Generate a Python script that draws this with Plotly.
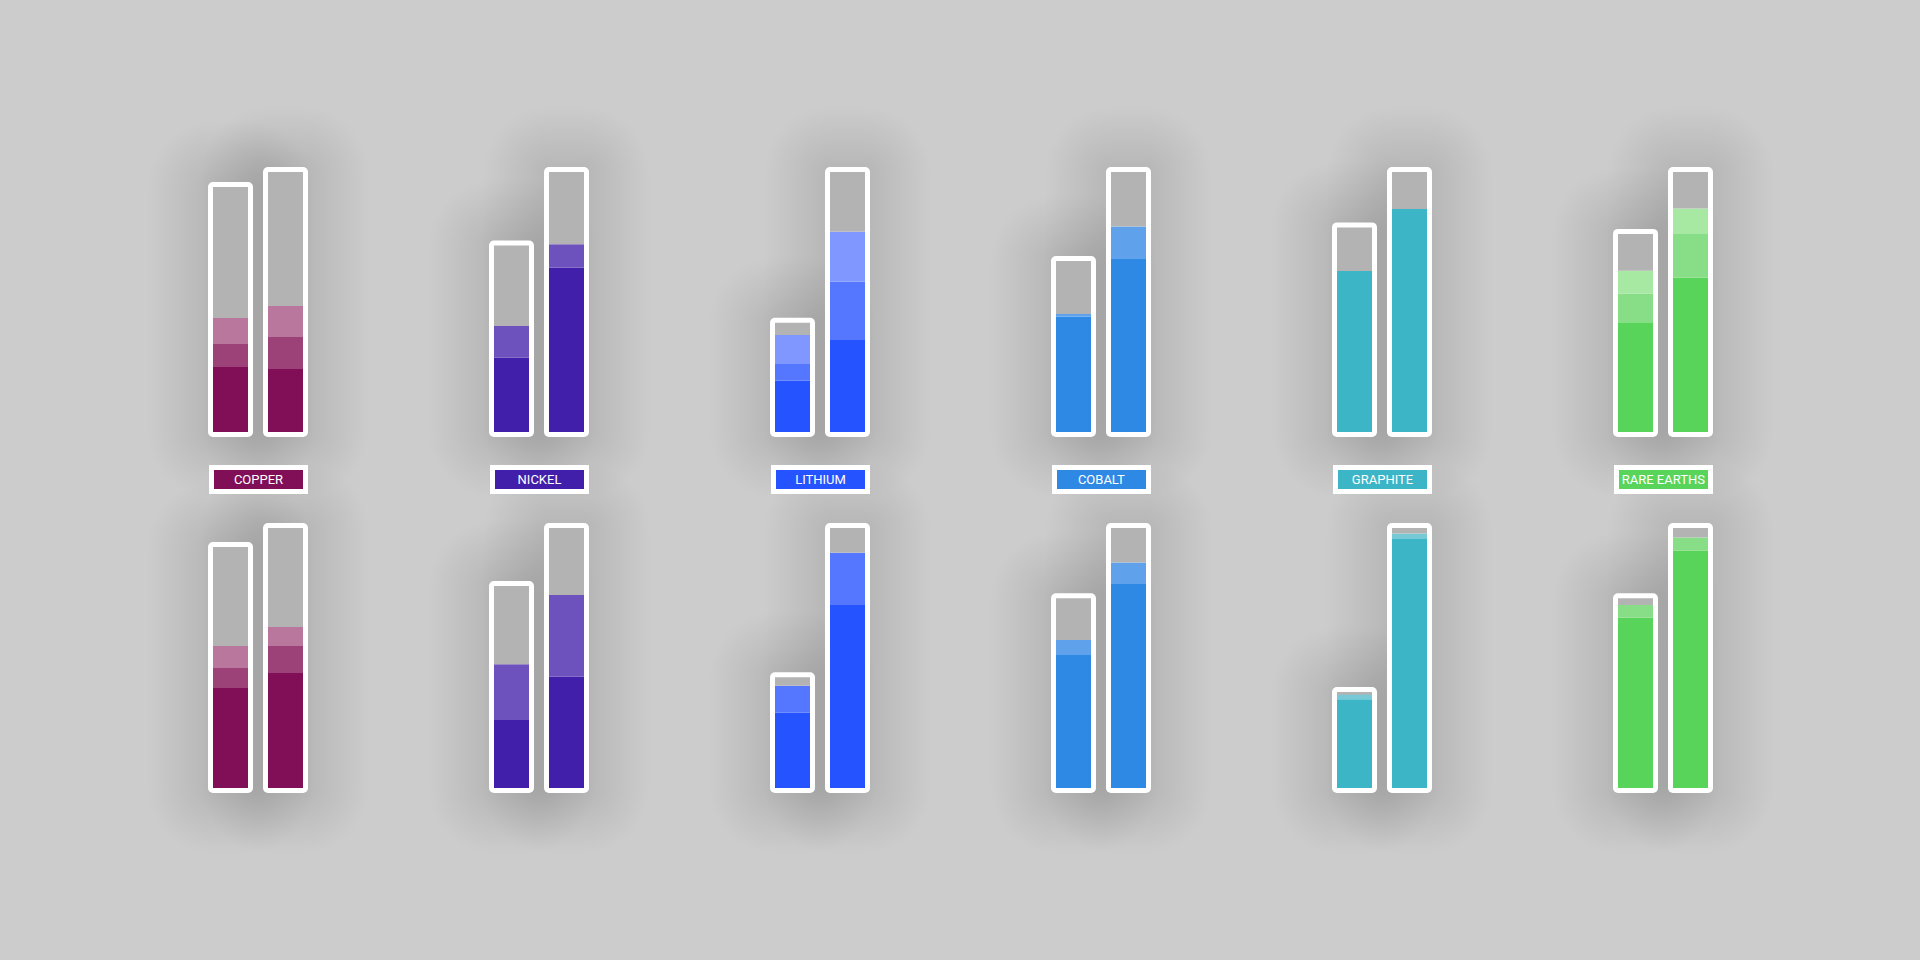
import plotly.graph_objects as go

# =============================================================================
# DATA  (each pair: left bar / right bar, values indexed to the taller bar = 100)
# =============================================================================

MINERALS = ["COPPER", "NICKEL", "LITHIUM", "COBALT", "GRAPHITE", "RARE EARTHS"]

# upper row
TOP_LEFT_1 = [25.0, 28.6, 19.7, 44.4, 61.9, 42.2]
TOP_LEFT_2 = [8.8, 12.2, 6.7, 1.0, 0.0, 11.1]
TOP_LEFT_3 = [10.0, 0.0, 10.9, 0.0, 0.0, 8.7]
TOP_LEFT_REST = [50.4, 30.9, 4.7, 20.4, 16.8, 14.2]

TOP_RIGHT_1 = [24.2, 63.3, 35.4, 66.8, 85.8, 59.3]
TOP_RIGHT_2 = [12.3, 8.9, 22.4, 12.2, 0.0, 16.9]
TOP_RIGHT_3 = [12.0, 0.0, 19.2, 0.0, 0.0, 9.8]
TOP_RIGHT_REST = [51.5, 27.8, 23.0, 21.0, 14.2, 14.0]

# lower row
BOTTOM_LEFT_1 = [38.5, 26.2, 28.9, 51.2, 34.1, 65.5]
BOTTOM_LEFT_2 = [7.7, 21.4, 10.4, 5.7, 2.1, 4.9]
BOTTOM_LEFT_3 = [8.4, 0.0, 0.0, 0.0, 0.0, 0.0]
BOTTOM_LEFT_REST = [38.1, 30.1, 3.3, 16.1, 0.7, 2.6]

BOTTOM_RIGHT_1 = [44.2, 42.8, 70.4, 78.5, 95.8, 91.3]
BOTTOM_RIGHT_2 = [10.4, 31.4, 20.1, 8.2, 2.1, 5.0]
BOTTOM_RIGHT_3 = [7.3, 0.0, 0.0, 0.0, 0.0, 0.0]
BOTTOM_RIGHT_REST = [38.1, 25.8, 9.5, 13.3, 2.1, 3.7]

# =============================================================================
# STYLE
# =============================================================================

SHADES = [
    ["#800f58", "#9c4279", "#b9779e"],
    ["#421fab", "#6d52be", "#8f7bd0"],
    ["#2553ff", "#5577ff", "#8097ff"],
    ["#2e89e5", "#60a1ec", "#8dbbf1"],
    ["#3cb5c7", "#78c9d6", "#a0d9e2"],
    ["#59d45a", "#87de86", "#a7e8a2"],
]
REST = "#b3b3b3"
BACKGROUND = "#cccccc"
FRAME = "#ffffff"

GROUP_PX = 281        # distance between mineral groups
UNIT_PX = 2.6         # pixels per value unit
BAR_PX = 35
FRAME_PX = 5
PAIR_OFFSET = 27.5 / GROUP_PX
SHADOW_STEPS = 20
SHADOW_STEP = 3.0
SHADOW_ALPHA = 0.0045

ROWS = [
    dict(
        left=[TOP_LEFT_1, TOP_LEFT_2, TOP_LEFT_3, TOP_LEFT_REST],
        right=[TOP_RIGHT_1, TOP_RIGHT_2, TOP_RIGHT_3, TOP_RIGHT_REST],
        xaxis="x", yaxis="y",
    ),
    dict(
        left=[BOTTOM_LEFT_1, BOTTOM_LEFT_2, BOTTOM_LEFT_3, BOTTOM_LEFT_REST],
        right=[BOTTOM_RIGHT_1, BOTTOM_RIGHT_2, BOTTOM_RIGHT_3, BOTTOM_RIGHT_REST],
        xaxis="x2", yaxis="y2",
    ),
]


def add_row(fig, row):
    xs, stacks, groups = [], [], []
    for i in range(len(MINERALS)):
        for side, shift in (("left", -PAIR_OFFSET), ("right", PAIR_OFFSET)):
            xs.append(i + shift)
            stacks.append([row[side][k][i] for k in range(4)])
            groups.append(i)
    totals = [sum(s) for s in stacks]
    axes = dict(xaxis=row["xaxis"], yaxis=row["yaxis"])

    # soft shadow behind each bar
    for k in range(SHADOW_STEPS, 0, -1):
        grow = k * SHADOW_STEP
        ext = (FRAME_PX + grow) / UNIT_PX
        fig.add_trace(go.Bar(
            x=xs,
            y=[t + 2 * ext for t in totals],
            base=[-ext] * len(xs),
            width=(BAR_PX + 2 * FRAME_PX + 2 * grow) / GROUP_PX,
            marker=dict(color=f"rgba(0,0,0,{SHADOW_ALPHA})", line_width=0,
                        cornerradius=6 + grow),
            hoverinfo="skip", showlegend=False, **axes,
        ))

    # white frame, drawn as two overlapping halves so both ends are rounded
    ext = FRAME_PX / UNIT_PX
    mids = [t / 2 for t in totals]
    overlap = 8.0
    fig.add_trace(go.Bar(
        x=xs,
        y=[m + ext + overlap for m in mids],
        base=[m - overlap for m in mids],
        width=(BAR_PX + 2 * FRAME_PX) / GROUP_PX,
        marker=dict(color=FRAME, line_width=0, cornerradius=5),
        hoverinfo="skip", showlegend=False, **axes,
    ))
    fig.add_trace(go.Bar(
        x=xs,
        y=[-(m + ext + overlap) for m in mids],
        base=[m + overlap for m in mids],
        width=(BAR_PX + 2 * FRAME_PX) / GROUP_PX,
        marker=dict(color=FRAME, line_width=0, cornerradius=5),
        hoverinfo="skip", showlegend=False, **axes,
    ))

    # stacked segments
    bases = [0.0] * len(xs)
    for level in range(4):
        vals = [s[level] for s in stacks]
        colors = [REST if level == 3 else SHADES[g][level] for g in groups]
        fig.add_trace(go.Bar(
            x=xs,
            y=vals,
            base=list(bases),
            width=BAR_PX / GROUP_PX,
            marker=dict(color=colors, line_width=0),
            customdata=[MINERALS[g] for g in groups],
            hovertemplate="<b>%{customdata}</b><br>%{y:.1f}<extra></extra>",
            showlegend=False, **axes,
        ))
        bases = [b + v for b, v in zip(bases, vals)]


fig = go.Figure()
for row in ROWS:
    add_row(fig, row)

# mineral labels
for i, name in enumerate(MINERALS):
    fig.add_annotation(
        x=i, xref="x", y=1 - 479.5 / 960, yref="paper",
        text=name, showarrow=False,
        font=dict(family="Roboto", size=13, color="#ffffff"),
        bgcolor=SHADES[i][0], bordercolor=FRAME, borderwidth=5,
        borderpad=0, width=89, height=19,
    )

x_range = [-258 / GROUP_PX, (1920 - 258) / GROUP_PX]
y_range = [-27, 127]
pad = 27 * UNIT_PX

fig.update_layout(
    width=1920,
    height=960,
    margin=dict(l=0, r=0, t=0, b=0),
    paper_bgcolor=BACKGROUND,
    plot_bgcolor="rgba(0,0,0,0)",
    barmode="overlay",
    font=dict(family="Roboto"),
    xaxis=dict(domain=[0, 1], range=x_range, visible=False, anchor="y"),
    xaxis2=dict(domain=[0, 1], range=x_range, visible=False, anchor="y2"),
    yaxis=dict(domain=[1 - (432 + pad) / 960, 1 - (172 - pad) / 960],
               range=y_range, visible=False, anchor="x"),
    yaxis2=dict(domain=[1 - (788 + pad) / 960, 1 - (528 - pad) / 960],
                range=y_range, visible=False, anchor="x2"),
)

fig.write_html(
    "out.html",
    config={"displayModeBar": False},
    post_script="document.body.style.margin='0';"
                "document.body.style.overflow='hidden';"
                f"document.body.style.background='{BACKGROUND}';",
)
